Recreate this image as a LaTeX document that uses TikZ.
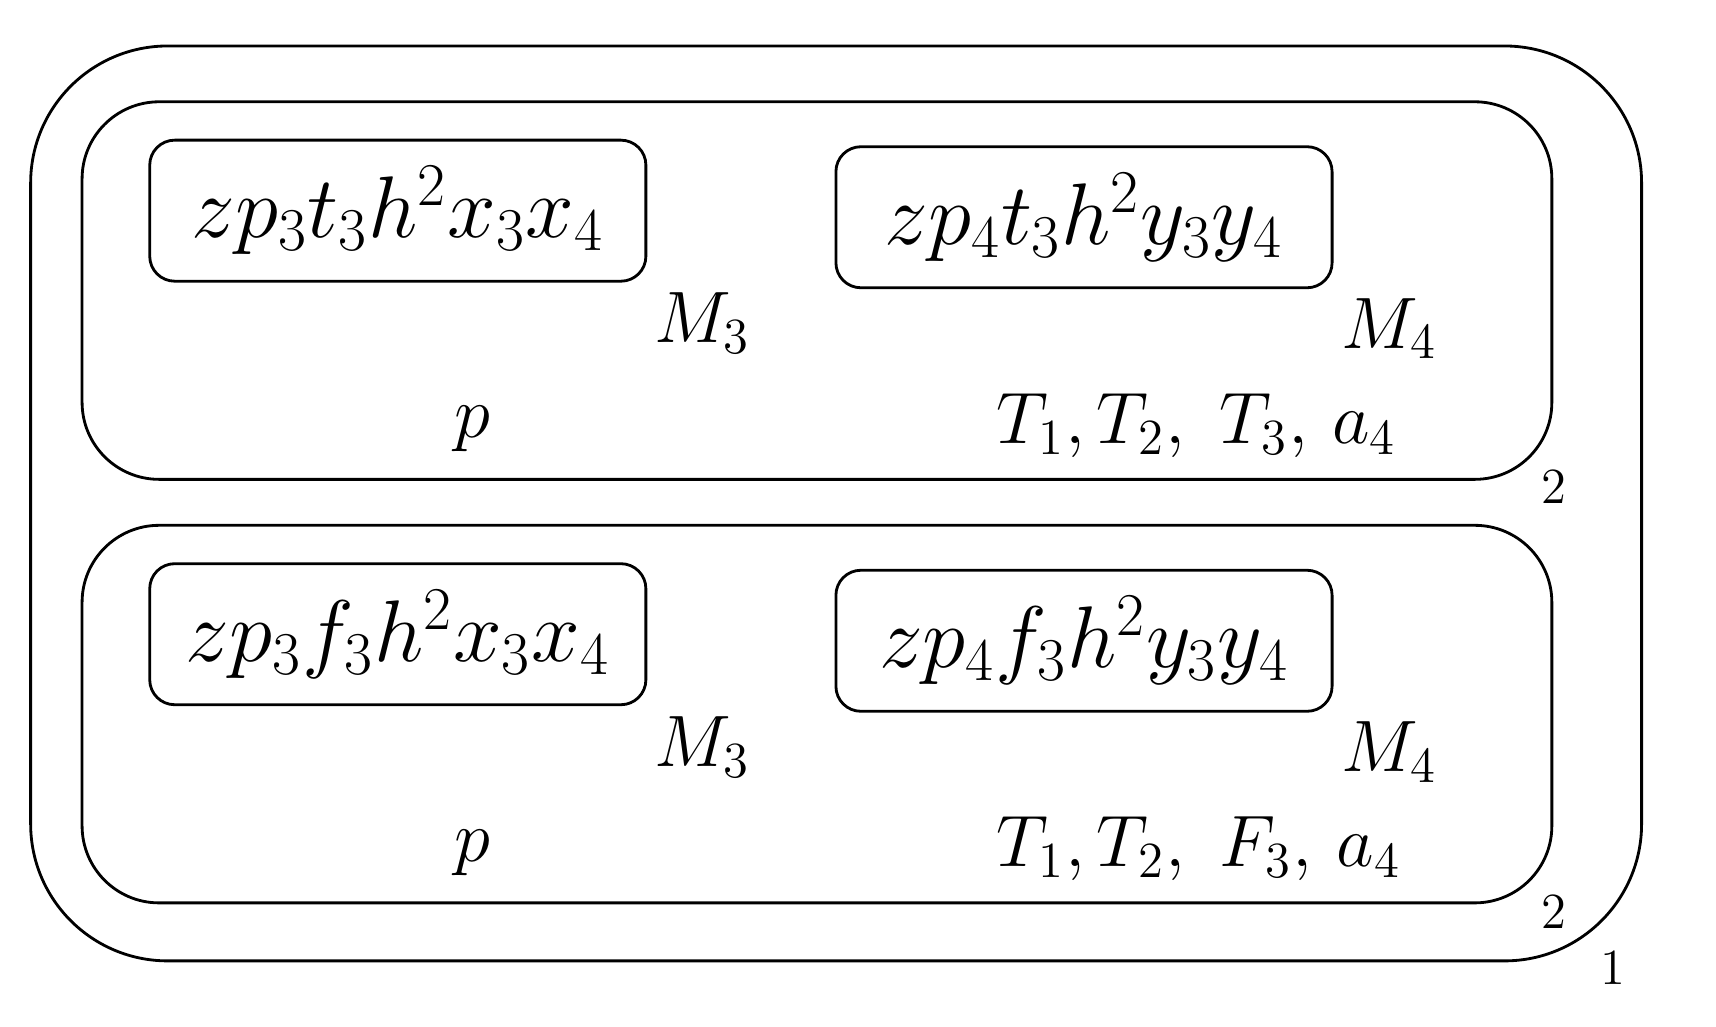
\documentclass[tikz,border=0pt]{standalone}
\begin{document}
\begin{tikzpicture}[x=0.01094cm, y=-0.01094cm,
  every node/.style={font=\fontsize{21}{25}\selectfont, inner sep=0pt},
  plate/.style={draw, line width=0.8pt},
  factor/.style={draw, line width=0.8pt, rounded corners=0.25cm, minimum width=4.96cm, minimum height=1.41cm, font=\fontsize{23}{27}\selectfont},
  lbl/.style={anchor=base west},
  idx/.style={font=\fontsize{14}{16}\selectfont, anchor=base west}]
\useasboundingbox (0,0) rectangle (1568,938);
% outer plate
\draw[plate, rounded corners=1.37cm] (28,42) rectangle (1500,878);
\node[idx] (one) at (1462,900) {$1$};
% upper plate
\draw[plate, rounded corners=0.77cm] (75,93) rectangle (1418,438);
\node[factor] (tx) at (363.5,192.5) {$zp_3t_3h^2x_3x_4$};
\node[factor] (ty) at (990.5,198.5) {$zp_4t_3h^2y_3y_4$};
\node[lbl] (mthree) at (597,313) {$M_3$};
\node[lbl] (mfour) at (1225,318) {$M_4$};
\node[anchor=base] (pt) at (432,400) {$p$};
\node[lbl] (tt) at (910,405) {$T_1,T_2,\ T_3,\,a_4$};
\node[idx] (twot) at (1408,460) {$2$};
% lower plate
\draw[plate, rounded corners=0.77cm] (75,480) rectangle (1418,825);
\node[factor] (fx) at (363.5,579.5) {$zp_3f_3h^2x_3x_4$};
\node[factor] (fy) at (990.5,585.5) {$zp_4f_3h^2y_3y_4$};
\node[lbl] (mthreef) at (597,700) {$M_3$};
\node[lbl] (mfourf) at (1225,705) {$M_4$};
\node[anchor=base] (pf) at (432,787) {$p$};
\node[lbl] (tf) at (910,792) {$T_1,T_2,\ F_3,\,a_4$};
\node[idx] (twof) at (1408,848) {$2$};
\end{tikzpicture}
\end{document}
